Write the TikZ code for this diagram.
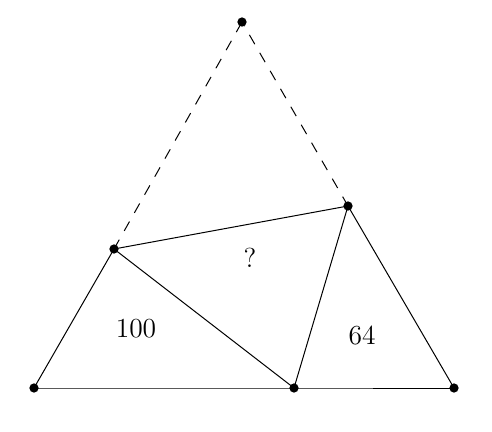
\documentclass[tikz,border=0pt]{standalone}
\begin{document}
\begin{tikzpicture}[x=0.4pt,y=-0.4pt,
  pt/.style={circle,fill=black,inner sep=0pt,minimum size=3.7pt},
  lbl/.style={inner sep=0pt,font=\fontsize{11}{13}\selectfont}]
\useasboundingbox (0,0) rectangle (492,432);
\node[pt] (T) at (242,22) {};
\node[pt] (L) at (114,249) {};
\node[pt] (R) at (348,206) {};
\node[pt] (A) at (34,388) {};
\node[pt] (M) at (294,388) {};
\node[pt] (B) at (454,388) {};
\draw (A.center) -- (M.center) -- (B.center);
\draw (A.center) -- (L.center) -- (M.center) -- (R.center) -- (B.center);
\draw (L.center) -- (R.center);
\draw[dash pattern=on 4.3pt off 4pt] (L.center) -- (T.center);
\draw[dash pattern=on 4.3pt off 4pt] (R.center) -- (T.center);
\node[lbl] (l100) at (136,329) {100};
\node[lbl] (lq) at (250,258) {?};
\node[lbl] (l64) at (362,336) {64};
\end{tikzpicture}
\end{document}
